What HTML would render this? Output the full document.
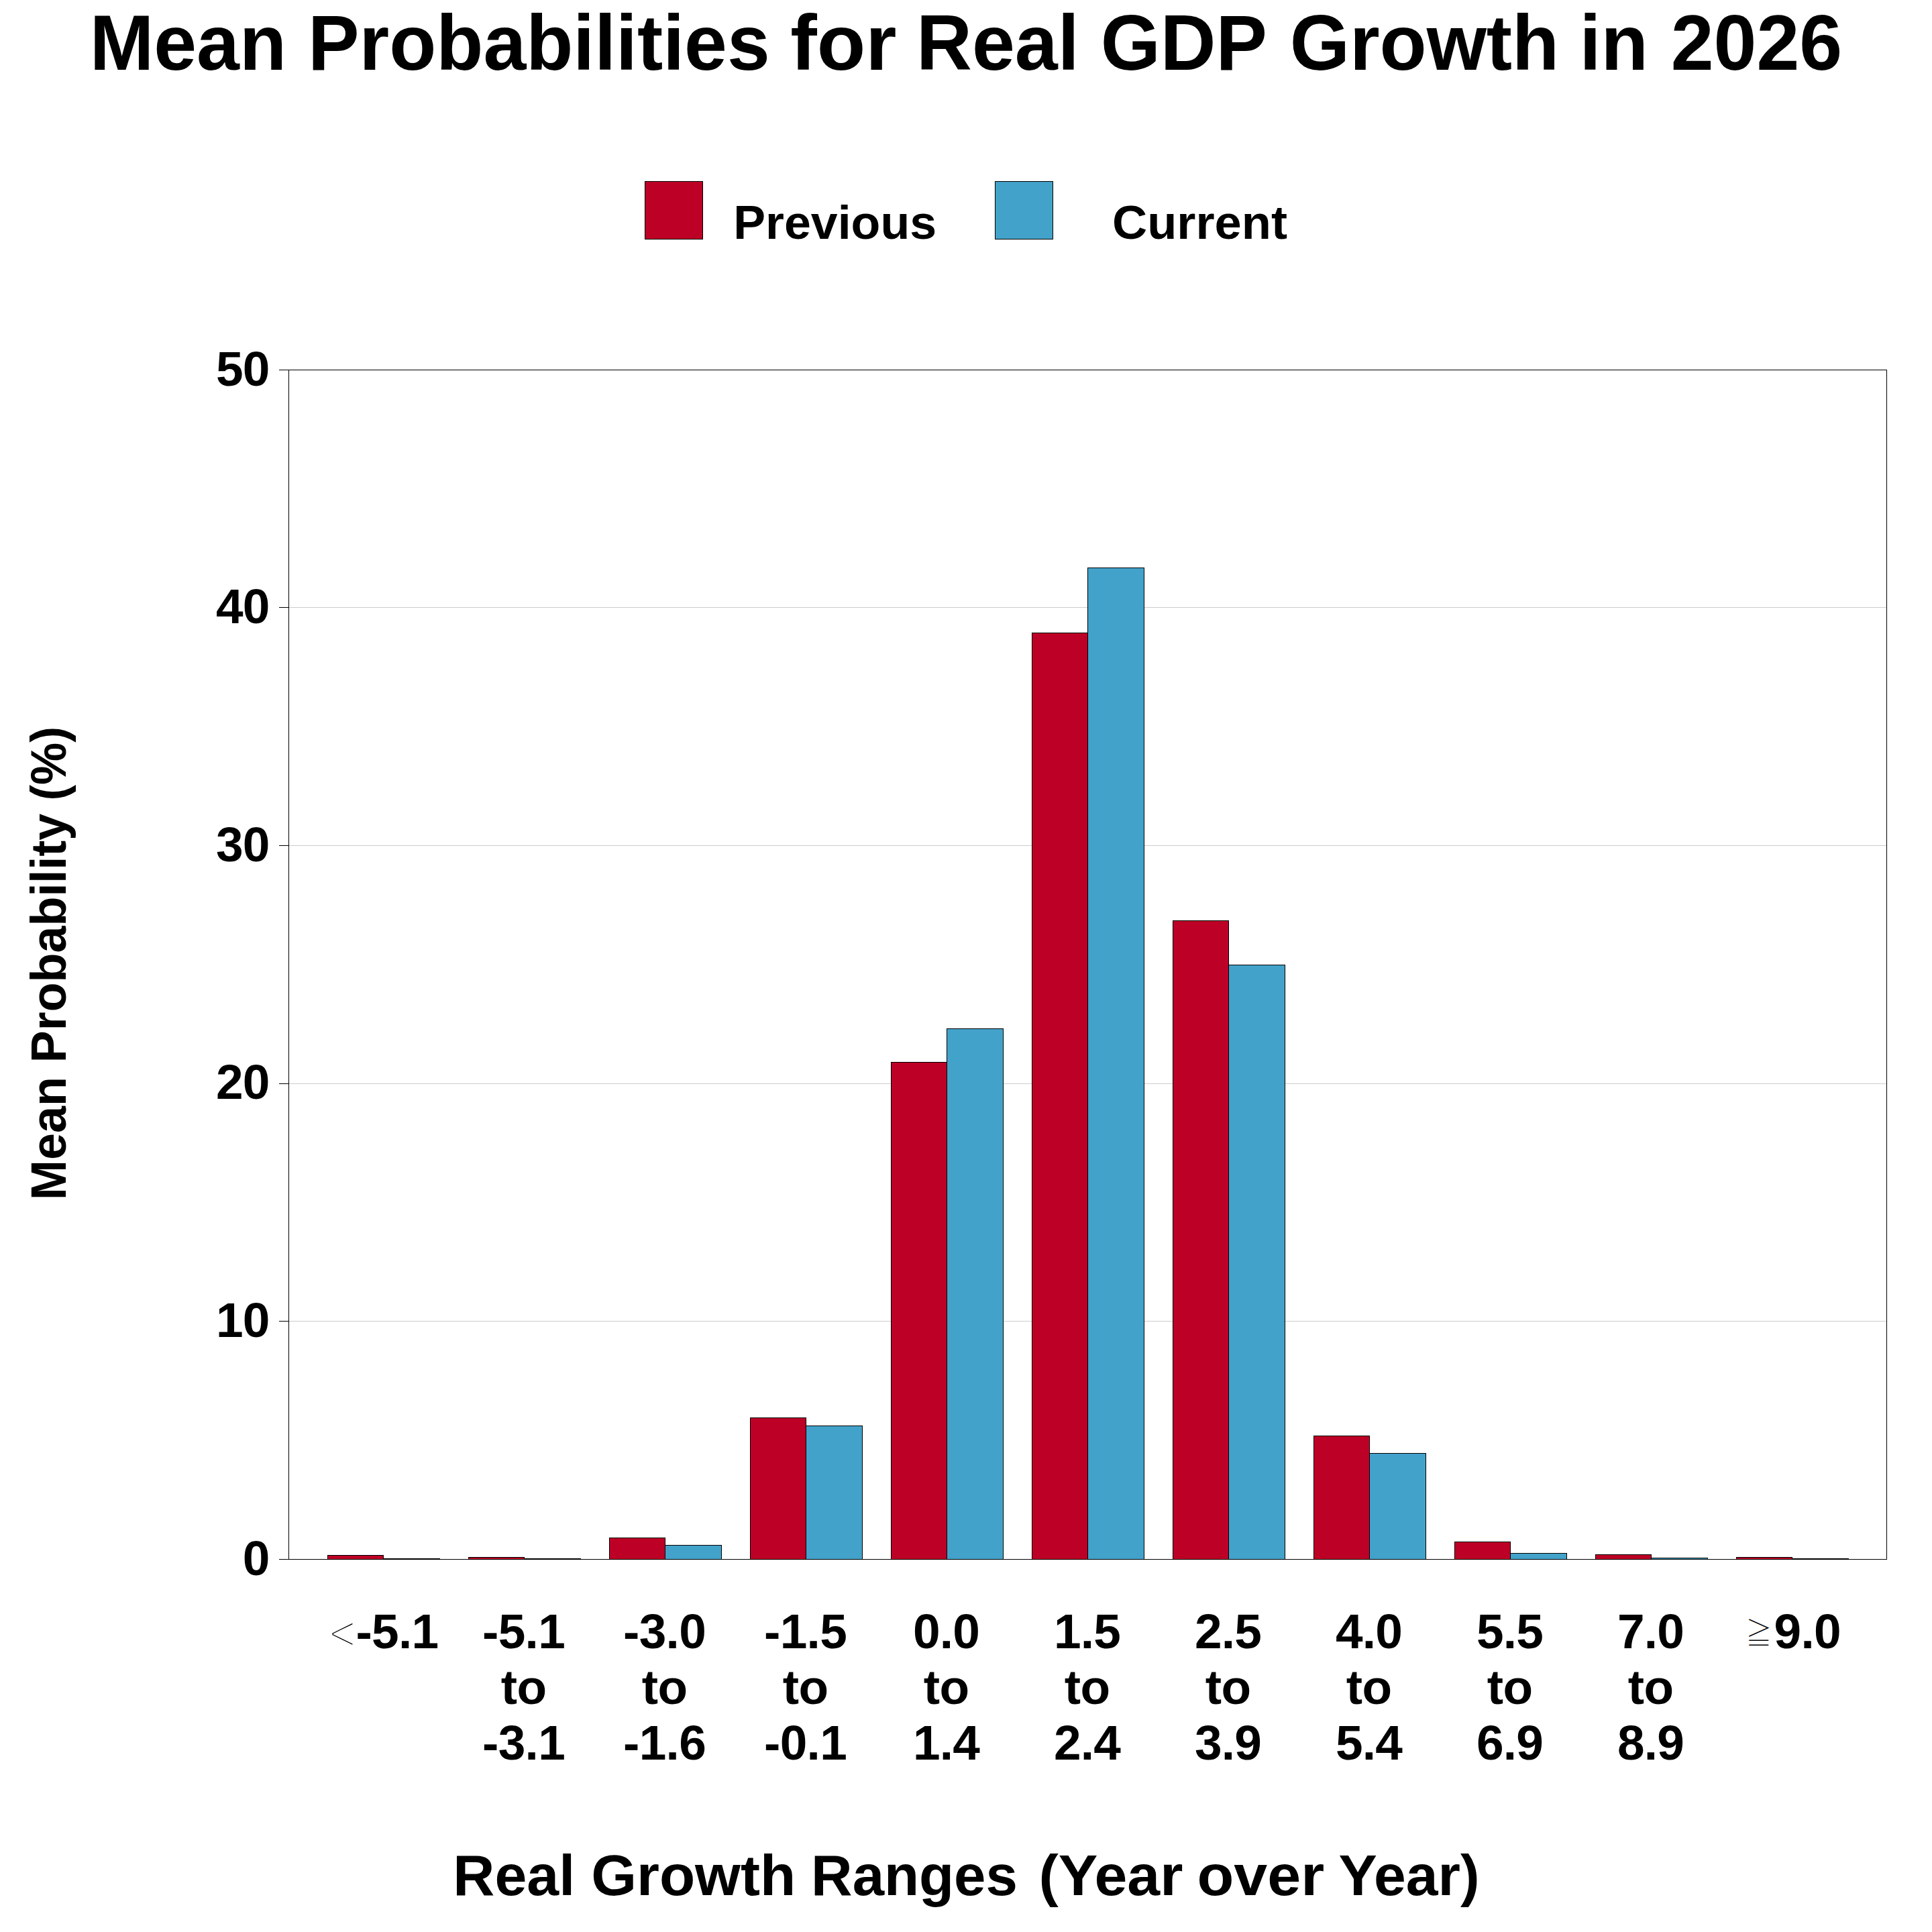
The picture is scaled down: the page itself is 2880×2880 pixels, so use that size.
<!DOCTYPE html>
<html lang="en"><head><meta charset="utf-8"><title>Mean Probabilities for Real GDP Growth in 2026</title>
<style>
html,body{margin:0;padding:0;background:#fff;}
html,body{width:2880px;height:2880px;}
svg{display:block;}
text{font-family:"Liberation Sans","DejaVu Sans",sans-serif;font-weight:bold;fill:#000;}
.thin{font-family:"Noto Sans CJK JP","DejaVu Sans",sans-serif;font-weight:100;}
</style></head><body>
<svg width="2880" height="2880" viewBox="0 0 2880 2880">
<rect x="0" y="0" width="2880" height="2880" fill="#fff"/>
<text y="104" font-size="116"><tspan x="133.70" textLength="293.36" lengthAdjust="spacingAndGlyphs">Mean</tspan> <tspan x="459.00" textLength="688.72" lengthAdjust="spacingAndGlyphs">Probabilities</tspan> <tspan x="1178.30" textLength="158.28" lengthAdjust="spacingAndGlyphs">for</tspan> <tspan x="1366.10" textLength="242.53" lengthAdjust="spacingAndGlyphs">Real</tspan> <tspan x="1640.70" textLength="246.22" lengthAdjust="spacingAndGlyphs">GDP</tspan> <tspan x="1922.70" textLength="401.47" lengthAdjust="spacingAndGlyphs">Growth</tspan> <tspan x="2354.50" textLength="102.51" lengthAdjust="spacingAndGlyphs">in</tspan> <tspan x="2490.70" textLength="255.57" lengthAdjust="spacingAndGlyphs">2026</tspan></text>
<rect x="961.5" y="270.5" width="86" height="86" fill="#BD0026" stroke="#000" stroke-width="1"/>
<text x="1093.30" y="356" font-size="71" textLength="302.74" lengthAdjust="spacingAndGlyphs">Previous</text>
<rect x="1483.5" y="270.5" width="86" height="86" fill="#43A2CA" stroke="#000" stroke-width="1"/>
<text x="1658.00" y="356" font-size="71" textLength="260.97" lengthAdjust="spacingAndGlyphs">Current</text>
<line x1="430.5" x2="2812.5" y1="1969.5" y2="1969.5" stroke="#cccccc" stroke-width="1"/>
<line x1="430.5" x2="2812.5" y1="1615.5" y2="1615.5" stroke="#cccccc" stroke-width="1"/>
<line x1="430.5" x2="2812.5" y1="1260.5" y2="1260.5" stroke="#cccccc" stroke-width="1"/>
<line x1="430.5" x2="2812.5" y1="905.5" y2="905.5" stroke="#cccccc" stroke-width="1"/>
<rect x="488.5" y="2318.5" width="83" height="6.0" fill="#BD0026" stroke="#000" stroke-width="1"/><rect x="571.5" y="2323.5" width="84" height="1.0" fill="#43A2CA" stroke="#000" stroke-width="1"/>
<rect x="698.5" y="2321.5" width="83" height="3.0" fill="#BD0026" stroke="#000" stroke-width="1"/><rect x="781.5" y="2323.5" width="84" height="1.0" fill="#43A2CA" stroke="#000" stroke-width="1"/>
<rect x="908.5" y="2292.5" width="83" height="32.0" fill="#BD0026" stroke="#000" stroke-width="1"/><rect x="991.5" y="2303.5" width="84" height="21.0" fill="#43A2CA" stroke="#000" stroke-width="1"/>
<rect x="1118.5" y="2113.5" width="83" height="211.0" fill="#BD0026" stroke="#000" stroke-width="1"/><rect x="1201.5" y="2125.5" width="84" height="199.0" fill="#43A2CA" stroke="#000" stroke-width="1"/>
<rect x="1328.5" y="1583.5" width="83" height="741.0" fill="#BD0026" stroke="#000" stroke-width="1"/><rect x="1411.5" y="1533.5" width="84" height="791.0" fill="#43A2CA" stroke="#000" stroke-width="1"/>
<rect x="1538.5" y="943.5" width="83" height="1381.0" fill="#BD0026" stroke="#000" stroke-width="1"/><rect x="1621.5" y="846.5" width="84" height="1478.0" fill="#43A2CA" stroke="#000" stroke-width="1"/>
<rect x="1748.5" y="1372.5" width="83" height="952.0" fill="#BD0026" stroke="#000" stroke-width="1"/><rect x="1831.5" y="1438.5" width="84" height="886.0" fill="#43A2CA" stroke="#000" stroke-width="1"/>
<rect x="1958.5" y="2140.5" width="83" height="184.0" fill="#BD0026" stroke="#000" stroke-width="1"/><rect x="2041.5" y="2166.5" width="84" height="158.0" fill="#43A2CA" stroke="#000" stroke-width="1"/>
<rect x="2168.5" y="2298.5" width="83" height="26.0" fill="#BD0026" stroke="#000" stroke-width="1"/><rect x="2251.5" y="2315.5" width="84" height="9.0" fill="#43A2CA" stroke="#000" stroke-width="1"/>
<rect x="2378.5" y="2317.5" width="83" height="7.0" fill="#BD0026" stroke="#000" stroke-width="1"/><rect x="2461.5" y="2322.5" width="84" height="2.0" fill="#43A2CA" stroke="#000" stroke-width="1"/>
<rect x="2588.5" y="2321.5" width="83" height="3.0" fill="#BD0026" stroke="#000" stroke-width="1"/><rect x="2671.5" y="2323.5" width="84" height="1.0" fill="#43A2CA" stroke="#000" stroke-width="1"/>
<rect x="430.5" y="551.5" width="2382.0" height="1773.0" fill="none" stroke="#000" stroke-width="1"/>
<line x1="416" x2="430.5" y1="551.5" y2="551.5" stroke="#000" stroke-width="1"/><text x="401.7" y="574.5" font-size="73" text-anchor="end" letter-spacing="-0.7">50</text>
<line x1="416" x2="430.5" y1="905.5" y2="905.5" stroke="#000" stroke-width="1"/><text x="401.7" y="929.1" font-size="73" text-anchor="end" letter-spacing="-0.7">40</text>
<line x1="416" x2="430.5" y1="1260.5" y2="1260.5" stroke="#000" stroke-width="1"/><text x="401.7" y="1283.7" font-size="73" text-anchor="end" letter-spacing="-0.7">30</text>
<line x1="416" x2="430.5" y1="1615.5" y2="1615.5" stroke="#000" stroke-width="1"/><text x="401.7" y="1638.3" font-size="73" text-anchor="end" letter-spacing="-0.7">20</text>
<line x1="416" x2="430.5" y1="1969.5" y2="1969.5" stroke="#000" stroke-width="1"/><text x="401.7" y="1992.9" font-size="73" text-anchor="end" letter-spacing="-0.7">10</text>
<line x1="416" x2="430.5" y1="2324.5" y2="2324.5" stroke="#000" stroke-width="1"/><text x="401.7" y="2347.5" font-size="73" text-anchor="end" letter-spacing="-0.7">0</text>
<text class="thin" transform="translate(492.21,2466.91) scale(0.6978,0.8615)" font-size="100" stroke="#fff" stroke-width="1.6">&lt;</text><text x="530.5" y="2457" font-size="73" letter-spacing="-0.7">-5.1</text>
<text x="780.6" y="2457" font-size="73" text-anchor="middle" letter-spacing="-0.7">-5.1</text><text x="780.6" y="2540" font-size="73" text-anchor="middle" letter-spacing="-0.7">to</text><text x="780.6" y="2623" font-size="73" text-anchor="middle" letter-spacing="-0.7">-3.1</text>
<text x="990.6" y="2457" font-size="73" text-anchor="middle" letter-spacing="-0.7">-3.0</text><text x="990.6" y="2540" font-size="73" text-anchor="middle" letter-spacing="-0.7">to</text><text x="990.6" y="2623" font-size="73" text-anchor="middle" letter-spacing="-0.7">-1.6</text>
<text x="1200.6" y="2457" font-size="73" text-anchor="middle" letter-spacing="-0.7">-1.5</text><text x="1200.6" y="2540" font-size="73" text-anchor="middle" letter-spacing="-0.7">to</text><text x="1200.6" y="2623" font-size="73" text-anchor="middle" letter-spacing="-0.7">-0.1</text>
<text x="1410.6" y="2457" font-size="73" text-anchor="middle" letter-spacing="-0.7">0.0</text><text x="1410.6" y="2540" font-size="73" text-anchor="middle" letter-spacing="-0.7">to</text><text x="1410.6" y="2623" font-size="73" text-anchor="middle" letter-spacing="-0.7">1.4</text>
<text x="1620.6" y="2457" font-size="73" text-anchor="middle" letter-spacing="-0.7">1.5</text><text x="1620.6" y="2540" font-size="73" text-anchor="middle" letter-spacing="-0.7">to</text><text x="1620.6" y="2623" font-size="73" text-anchor="middle" letter-spacing="-0.7">2.4</text>
<text x="1830.6" y="2457" font-size="73" text-anchor="middle" letter-spacing="-0.7">2.5</text><text x="1830.6" y="2540" font-size="73" text-anchor="middle" letter-spacing="-0.7">to</text><text x="1830.6" y="2623" font-size="73" text-anchor="middle" letter-spacing="-0.7">3.9</text>
<text x="2040.6" y="2457" font-size="73" text-anchor="middle" letter-spacing="-0.7">4.0</text><text x="2040.6" y="2540" font-size="73" text-anchor="middle" letter-spacing="-0.7">to</text><text x="2040.6" y="2623" font-size="73" text-anchor="middle" letter-spacing="-0.7">5.4</text>
<text x="2250.6" y="2457" font-size="73" text-anchor="middle" letter-spacing="-0.7">5.5</text><text x="2250.6" y="2540" font-size="73" text-anchor="middle" letter-spacing="-0.7">to</text><text x="2250.6" y="2623" font-size="73" text-anchor="middle" letter-spacing="-0.7">6.9</text>
<text x="2460.6" y="2457" font-size="73" text-anchor="middle" letter-spacing="-0.7">7.0</text><text x="2460.6" y="2540" font-size="73" text-anchor="middle" letter-spacing="-0.7">to</text><text x="2460.6" y="2623" font-size="73" text-anchor="middle" letter-spacing="-0.7">8.9</text>
<text class="thin" transform="translate(2602.32,2451.03) scale(0.3896,0.4432)" font-size="100">≧</text><text x="2644.5" y="2457" font-size="73" letter-spacing="-0.7">9.0</text>
<text y="2825" font-size="85.5"><tspan x="675.30" textLength="181.76" lengthAdjust="spacingAndGlyphs">Real</tspan> <tspan x="881.20" textLength="304.98" lengthAdjust="spacingAndGlyphs">Growth</tspan> <tspan x="1209.10" textLength="307.81" lengthAdjust="spacingAndGlyphs">Ranges</tspan> <tspan x="1548.50" textLength="214.90" lengthAdjust="spacingAndGlyphs">(Year</tspan> <tspan x="1784.50" textLength="189.69" lengthAdjust="spacingAndGlyphs">over</tspan> <tspan x="1995.40" textLength="210.23" lengthAdjust="spacingAndGlyphs">Year)</tspan></text>
<text y="0" font-size="74" transform="translate(97.5,1435) rotate(-90)"><tspan x="-353.90" textLength="183.89" lengthAdjust="spacingAndGlyphs">Mean</tspan> <tspan x="-149.20" textLength="371.38" lengthAdjust="spacingAndGlyphs">Probability</tspan> <tspan x="241.40" textLength="110.57" lengthAdjust="spacingAndGlyphs">(%)</tspan></text>
</svg>
</body></html>
